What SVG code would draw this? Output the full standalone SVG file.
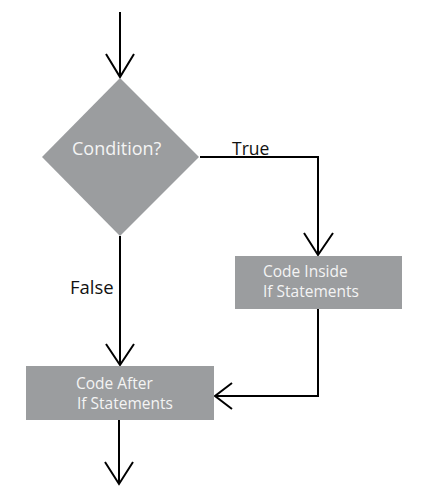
<svg xmlns="http://www.w3.org/2000/svg" width="422" height="501" viewBox="0 0 422 501">
<style>
.shape{fill:#9b9d9f;stroke:none}
.lbl{font-family:"Open Sans","Noto Sans",sans-serif;font-size:15.5px;fill:#f4f4f4}
.edge{fill:none;stroke:#000;stroke-width:2}
.elbl{font-family:"Open Sans","Noto Sans",sans-serif;font-size:17.5px;fill:#111}
</style>
<rect width="422" height="501" fill="#fff"/>
<g id="connectors">
<path class="edge" d="M120 12 V77"/>
<polyline class="edge" points="106,54 120,77 134,54"/>
<path class="edge" d="M200 157 H318 V255"/>
<polyline class="edge" points="304,233 318,255 333,233"/>
<path class="edge" d="M120 236 V365"/>
<polyline class="edge" points="106,344 120,365 134,344"/>
<path class="edge" d="M318 309 V396 H215"/>
<polyline class="edge" points="232,383 215,396 232,409"/>
<path class="edge" d="M119 420 V484"/>
<polyline class="edge" points="105,462 119,484 133,462"/>
<text class="elbl" x="232" y="155">True</text>
<text class="elbl" x="70" y="294" style="font-size:18.5px">False</text>
</g>
<g id="condition">
<polygon class="shape" points="120,78 199,157 120,236 42,157"/>
<text class="lbl" x="72" y="155" style="font-size:18px">Condition?</text>
</g>
<g id="inside">
<rect class="shape" x="235" y="256" width="167" height="53"/>
<text class="lbl" x="263" y="277">Code Inside</text>
<text class="lbl" x="263" y="297">If Statements</text>
</g>
<g id="after">
<rect class="shape" x="26" y="366" width="188" height="54"/>
<text class="lbl" x="76" y="389">Code After</text>
<text class="lbl" x="77" y="409">If Statements</text>
</g>
</svg>
